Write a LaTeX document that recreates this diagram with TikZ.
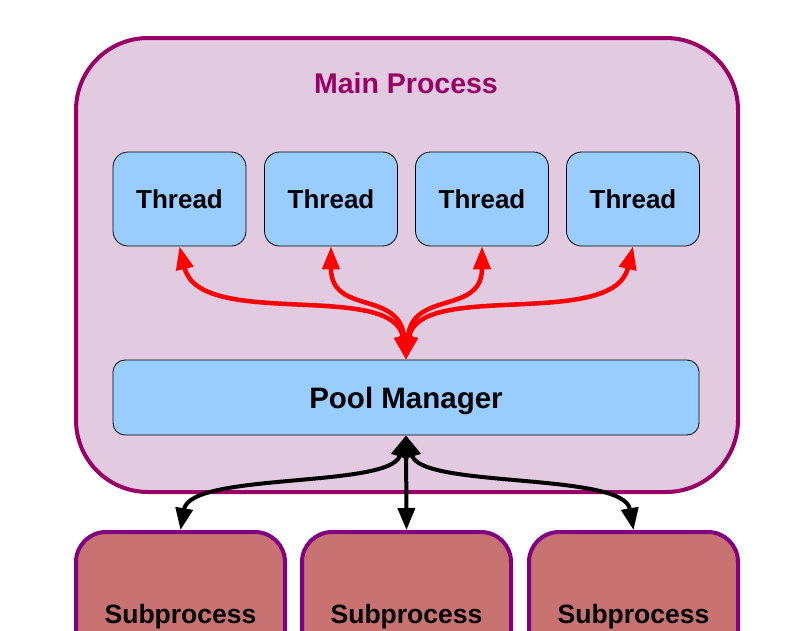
\documentclass[tikz,border=0pt]{standalone}
\usepackage{fontspec}
\setmainfont{Liberation Sans}
\usetikzlibrary{arrows.meta}
\definecolor{mainfill}{HTML}{E2CAE1}
\definecolor{mainborder}{HTML}{990066}
\definecolor{threadfill}{HTML}{99CCFF}
\definecolor{subfill}{HTML}{C87272}
\definecolor{subborder}{HTML}{800080}
\begin{document}
\begin{tikzpicture}[x=1pt,y=-1pt,
  mainbox/.style={draw=mainborder,fill=mainfill,line width=4pt,rounded corners=72pt,minimum width=662pt,minimum height=454pt,inner sep=0pt},
  titletext/.style={text=mainborder,font=\bfseries\fontsize{28.5}{30}\selectfont,anchor=base,inner sep=0pt},
  threadbox/.style={draw=black,fill=threadfill,line width=0.8pt,rounded corners=15pt,minimum width=133pt,minimum height=94pt,inner sep=0pt,font=\bfseries\fontsize{26}{28}\selectfont,text depth=0pt},
  poolbox/.style={draw=black,fill=threadfill,line width=0.8pt,rounded corners=12pt,minimum width=586pt,minimum height=75pt,inner sep=0pt,font=\bfseries\fontsize{29.5}{31}\selectfont,text depth=0pt},
  subbox/.style={draw=subborder,fill=subfill,line width=4pt,rounded corners=30pt,minimum width=209pt,minimum height=160pt,inner sep=0pt,anchor=north},
  subtext/.style={font=\bfseries\fontsize{26.5}{28}\selectfont,inner sep=0pt,text depth=0pt},
  redarrow/.style={draw=red,line width=4.5pt,{Triangle[length=23pt,width=17pt]}-{Triangle[length=23pt,width=17pt]}},
  blackarrow/.style={draw=black,line width=4pt,{Triangle[length=22pt,width=17pt]}-{Triangle[length=22pt,width=17pt]}}
]
\useasboundingbox (0,0) rectangle (794,630);
\clip (0,0) rectangle (794,630);
\fill[white] (0,0) rectangle (794,630);

\node[mainbox] (main) at (407,265) {};
\node[titletext] (title) at (406,93) {Main Process};

\node[threadbox] (t1) at (179.5,199) {Thread};
\node[threadbox] (t2) at (331,199) {Thread};
\node[threadbox] (t3) at (482,199) {Thread};
\node[threadbox] (t4) at (633,199) {Thread};

\node[poolbox] (pm) at (406,397.5) {Pool Manager};

\node[subbox] (s1) at (180.5,530) {};
\node[subbox] (s2) at (406.5,530) {};
\node[subbox] (s3) at (633.5,530) {};
\node[subtext] (s1t) at (180.5,613.5) {Subprocess};
\node[subtext] (s2t) at (406.5,613.5) {Subprocess};
\node[subtext] (s3t) at (633.5,613.5) {Subprocess};

% red arrows
\draw[redarrow] (pm.north) .. controls +(-11,-80) and +(20,84) .. (t1.south);
\draw[redarrow] (pm.north) .. controls +(-6,-70) and +(0,69) .. (t2.south);
\draw[redarrow] (pm.north) .. controls +(6,-70) and +(0,69) .. (t3.south);
\draw[redarrow] (pm.north) .. controls +(11,-80) and +(-20,84) .. (t4.south);

% black arrows
\draw[blackarrow] (pm.south) .. controls +(-16,53) and +(10,-58) .. (s1.north);
\draw[blackarrow] (pm.south) -- (s2.north);
\draw[blackarrow] (pm.south) .. controls +(16,53) and +(-10,-58) .. (s3.north);
\end{tikzpicture}
\end{document}
